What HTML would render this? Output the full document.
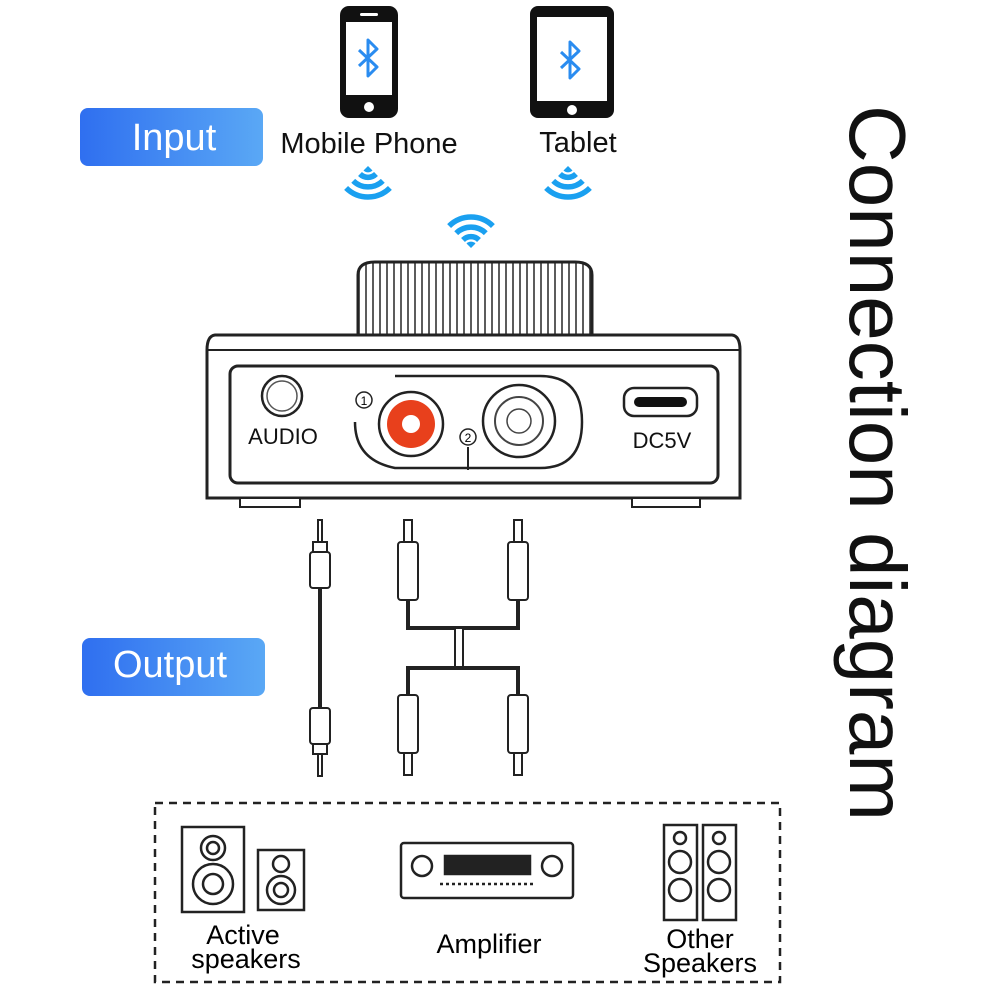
<!DOCTYPE html>
<html><head><meta charset="utf-8"><style>
html,body{margin:0;padding:0;background:#fff;}
svg{display:block;font-family:"Liberation Sans",Arial,sans-serif;}
</style></head><body>
<svg width="1000" height="1000" viewBox="0 0 1000 1000" xmlns="http://www.w3.org/2000/svg">
<defs>
<linearGradient id="bg" x1="0" x2="1" y1="0" y2="0">
<stop offset="0" stop-color="#2f6ff0"/><stop offset="1" stop-color="#5aa8f5"/>
</linearGradient>
<pattern id="knurl" width="7" height="10" patternUnits="userSpaceOnUse">
<rect width="7" height="10" fill="#fff"/><line x1="2" y1="0" x2="2" y2="10" stroke="#333" stroke-width="1.6"/>
</pattern>
<g id="wifi">
<path d="M0,0 L-4.5,4.5 A6.4 6.4 0 0 0 4.5,4.5 Z" fill="#1aa0f0"/>
<g fill="none" stroke="#1aa0f0" stroke-width="5.5">
<path d="M-8,8 A11.3 11.3 0 0 0 8,8"/>
<path d="M-14.8,14.8 A21 21 0 0 0 14.8,14.8"/>
<path d="M-21.9,21.9 A31 31 0 0 0 21.9,21.9"/>
</g>
</g>
<g id="bt" fill="none" stroke="#2a8cf0" stroke-width="3" stroke-linejoin="round">
<path d="M-9,-8 L9,9 L0,18 L0,-18 L9,-9 L-9,8"/>
</g>
</defs>

<!-- Buttons -->
<rect x="80" y="108" width="183" height="58" rx="8" fill="url(#bg)"/>
<text x="174" y="150" font-size="38" fill="#fff" text-anchor="middle">Input</text>
<rect x="82" y="638" width="183" height="58" rx="8" fill="url(#bg)"/>
<text x="170" y="677" font-size="38" fill="#fff" text-anchor="middle">Output</text>

<!-- Phone -->
<rect x="340" y="6" width="58" height="112" rx="9" fill="#111"/>
<rect x="346" y="22" width="46" height="73" fill="#fff"/>
<rect x="360" y="13" width="18" height="3" rx="1.5" fill="#fff"/>
<circle cx="369" cy="107" r="5" fill="#fff"/>
<use href="#bt" x="368" y="58"/>
<!-- Tablet -->
<rect x="530" y="6" width="84" height="112" rx="8" fill="#111"/>
<rect x="537" y="17" width="70" height="84" fill="#fff"/>
<circle cx="572" cy="110" r="5" fill="#fff"/>
<use href="#bt" x="570" y="60"/>

<text x="369" y="153" font-size="29" fill="#111" text-anchor="middle">Mobile Phone</text>
<text x="578" y="152" font-size="29" fill="#111" text-anchor="middle">Tablet</text>

<use href="#wifi" x="368" y="166"/>
<use href="#wifi" x="568" y="166"/>
<use href="#wifi" transform="translate(471,248) scale(1,-1)"/>

<!-- Knob -->
<path d="M358,275 Q358,262 375,262 L575,262 Q592,262 592,275 L592,335 L358,335 Z" fill="url(#knurl)" stroke="#222" stroke-width="3"/>

<!-- Device -->
<path d="M215,335 L732,335 Q740,336 740,350 L740,498 L207,498 L207,350 Q207,336 215,335 Z" fill="#fff" stroke="#222" stroke-width="3"/>
<line x1="207" y1="350" x2="740" y2="350" stroke="#222" stroke-width="2"/>
<rect x="230" y="366" width="488" height="117" rx="8" fill="#fff" stroke="#222" stroke-width="3"/>
<rect x="240" y="498" width="60" height="9" fill="#fff" stroke="#222" stroke-width="2"/>
<rect x="632" y="498" width="68" height="9" fill="#fff" stroke="#222" stroke-width="2"/>

<circle cx="282" cy="396" r="20" fill="#fff" stroke="#222" stroke-width="2.5"/>
<circle cx="282" cy="396" r="15" fill="none" stroke="#555" stroke-width="1.5"/>
<text x="283" y="444" font-size="22" fill="#111" text-anchor="middle">AUDIO</text>

<path d="M395,376 L540,376 Q582,376 582,422 Q582,468 540,468 L395,468 Q355,460 355,422" fill="none" stroke="#222" stroke-width="2.5"/>
<line x1="468" y1="447" x2="468" y2="470" stroke="#222" stroke-width="2"/>
<circle cx="364" cy="400" r="8" fill="#fff" stroke="#222" stroke-width="1.5"/>
<text x="364" y="405" font-size="12" text-anchor="middle">1</text>
<circle cx="468" cy="437" r="8" fill="#fff" stroke="#222" stroke-width="1.5"/>
<text x="468" y="442" font-size="12" text-anchor="middle">2</text>

<circle cx="411" cy="424" r="32" fill="#fff" stroke="#222" stroke-width="2.5"/>
<circle cx="411" cy="424" r="24" fill="#e8401c"/>
<circle cx="411" cy="424" r="9" fill="#fff"/>
<circle cx="519" cy="421" r="36" fill="#fff" stroke="#222" stroke-width="2.5"/>
<circle cx="519" cy="421" r="24" fill="#fff" stroke="#444" stroke-width="2"/>
<circle cx="519" cy="421" r="12" fill="#fff" stroke="#444" stroke-width="1.5"/>

<rect x="624" y="388" width="73" height="28" rx="10" fill="#fff" stroke="#222" stroke-width="2.5"/>
<rect x="634" y="397" width="53" height="10" rx="5" fill="#111"/>
<text x="662" y="448" font-size="22" fill="#111" text-anchor="middle">DC5V</text>

<!-- 3.5mm cable -->
<g fill="#fff" stroke="#222" stroke-width="2">
<rect x="318" y="520" width="4" height="22"/>
<rect x="313" y="542" width="14" height="10"/>
<rect x="310" y="552" width="20" height="36" rx="3"/>
<line x1="320" y1="588" x2="320" y2="708" stroke-width="4"/>
<rect x="310" y="708" width="20" height="36" rx="3"/>
<rect x="313" y="744" width="14" height="10"/>
<rect x="318" y="754" width="4" height="22"/>
</g>
<!-- RCA cables -->
<g fill="#fff" stroke="#222" stroke-width="2">
<rect x="404" y="520" width="8" height="22"/>
<rect x="398" y="542" width="20" height="58" rx="3"/>
<rect x="514" y="520" width="8" height="22"/>
<rect x="508" y="542" width="20" height="58" rx="3"/>
<path d="M408,600 L408,628 L518,628 L518,600" fill="none" stroke-width="4"/>
<rect x="455" y="628" width="8" height="40"/>
<path d="M408,695 L408,668 L518,668 L518,695" fill="none" stroke-width="4"/>
<rect x="398" y="695" width="20" height="58" rx="3"/>
<rect x="404" y="753" width="8" height="22"/>
<rect x="508" y="695" width="20" height="58" rx="3"/>
<rect x="514" y="753" width="8" height="22"/>
</g>

<!-- Dashed box -->
<rect x="155" y="803" width="625" height="179" fill="none" stroke="#222" stroke-width="2.5" stroke-dasharray="8,6"/>

<!-- Active speakers -->
<g fill="#fff" stroke="#222" stroke-width="2.5">
<rect x="182" y="827" width="62" height="85"/>
<circle cx="213" cy="848" r="12"/><circle cx="213" cy="848" r="6"/>
<circle cx="213" cy="884" r="20"/><circle cx="213" cy="884" r="10"/>
<rect x="258" y="850" width="46" height="60"/>
<circle cx="281" cy="864" r="8"/><circle cx="281" cy="890" r="14"/><circle cx="281" cy="890" r="7"/>
</g>
<text x="243" y="944" font-size="27" text-anchor="middle">Active</text>
<text x="246" y="968" font-size="27" text-anchor="middle">speakers</text>

<!-- Amplifier -->
<g fill="#fff" stroke="#222" stroke-width="2.5">
<rect x="401" y="843" width="172" height="55" rx="3"/>
<circle cx="422" cy="866" r="10"/><circle cx="552" cy="866" r="10"/>
<rect x="445" y="856" width="85" height="18" fill="#222"/>
<line x1="440" y1="884" x2="535" y2="884" stroke-dasharray="3,3"/>
</g>
<text x="489" y="953" font-size="27" text-anchor="middle">Amplifier</text>

<!-- Other speakers -->
<g fill="#fff" stroke="#222" stroke-width="2.5">
<rect x="664" y="825" width="33" height="95"/>
<circle cx="680" cy="838" r="6"/><circle cx="680" cy="862" r="11"/><circle cx="680" cy="890" r="11"/>
<rect x="703" y="825" width="33" height="95"/>
<circle cx="719" cy="838" r="6"/><circle cx="719" cy="862" r="11"/><circle cx="719" cy="890" r="11"/>
</g>
<text x="700" y="948" font-size="27" text-anchor="middle">Other</text>
<text x="700" y="972" font-size="27" text-anchor="middle">Speakers</text>

<!-- Vertical title -->
<text transform="translate(850,463) rotate(90)" font-size="80" fill="#111" text-anchor="middle">Connection diagram</text>
</svg>
</body></html>
